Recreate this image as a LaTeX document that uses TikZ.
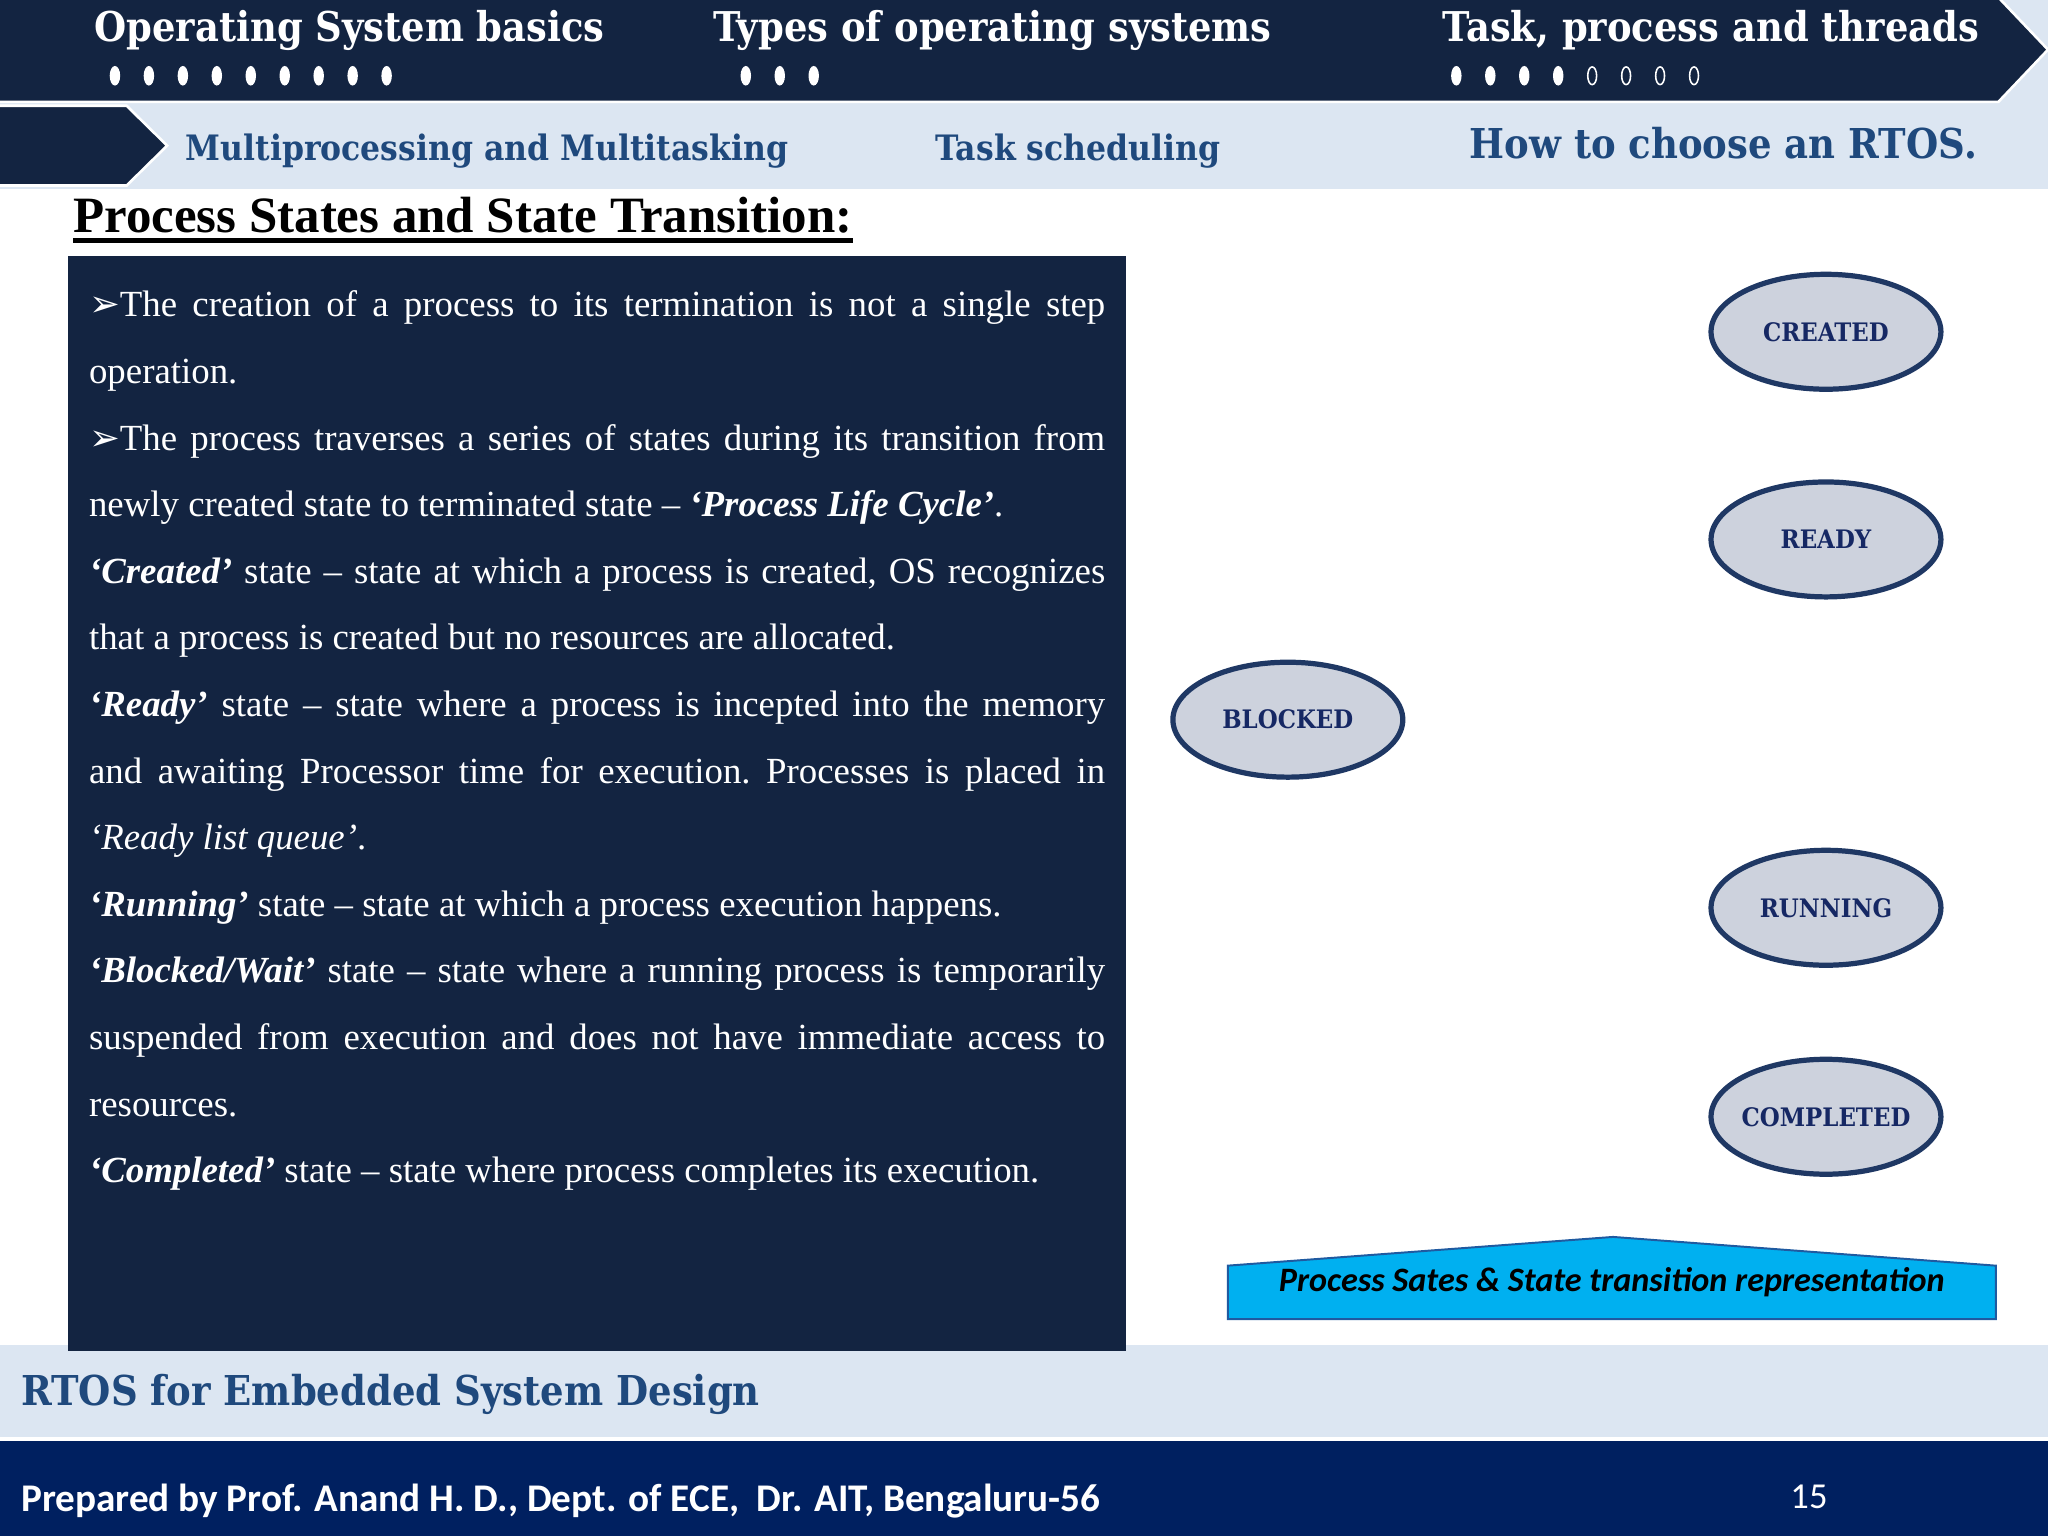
\documentclass[tikz,border=0pt]{standalone}
\usepackage{fontspec}
\setmainfont{Liberation Serif}
\newfontfamily\slab[FakeStretch=0.9]{DejaVu Serif}
\newfontfamily\calib{Carlito}
\newfontfamily\symb{DejaVu Sans}
\usetikzlibrary{shapes.geometric}
\definecolor{navy}{RGB}{19,36,65}
\definecolor{band}{RGB}{220,230,242}
\definecolor{bandtext}{RGB}{31,73,125}
\definecolor{foot}{RGB}{0,32,96}
\definecolor{statefill}{RGB}{205,210,221}
\definecolor{stateline}{RGB}{31,56,100}
\definecolor{statetext}{RGB}{22,40,100}
\definecolor{capfill}{RGB}{0,176,240}
\definecolor{capline}{RGB}{31,90,160}
\begin{document}
\begin{tikzpicture}[x=1pt,y=-1pt,
  toptab/.style={inner sep=0,anchor=base west,text=white,font=\slab\bfseries\fontsize{31.4}{31.4}\selectfont},
  subtab/.style={inner sep=0,anchor=base west,text=bandtext,font=\slab\bfseries\fontsize{26.8}{26.8}\selectfont},
  bigtab/.style={subtab,font=\slab\bfseries\fontsize{31.5}{31.5}\selectfont},
  state/.style={ellipse,draw=stateline,line width=4pt,fill=statefill,minimum width=176pt,minimum height=88pt,
    inner xsep=-6pt,inner ysep=0,text=statetext,font=\slab\bfseries\fontsize{19.5}{19.5}\selectfont},
  body/.style={inner sep=0,anchor=north west,text width=778pt,align=justify,text=white,
    font=\fontsize{28.2}{51}\selectfont\frenchspacing}]
\useasboundingbox (0,0) rectangle (1568,1176);
\fill[white] (0,0) rectangle (1568,1176);
\fill[band] (0,0) rectangle (1568,145);
\draw[white,line width=2,fill=navy] (-2,-2) -- (1530,-2) -- (1568,38) -- (1530,78) -- (-2,78) -- cycle;
\draw[white,line width=2,fill=navy] (-2,81) -- (97,81) -- (128,111.5) -- (97,142) -- (-2,142) -- cycle;
\node[toptab] (basics) at (72,32) {Operating System basics};
\node[toptab] (types) at (546,32) {Types of operating systems};
\node[toptab] (threads) at (1104,32) {Task, process and threads};
\foreach \i in {0,...,8} \fill[white] (88+26*\i,58) ellipse (4 and 7.5);
\foreach \i in {0,1,2} \fill[white] (571+26*\i,58) ellipse (4 and 7.5);
\foreach \i in {0,...,3} {
  \fill[white] (1115+26*\i,58) ellipse (4 and 7.5);
  \draw[white,line width=1.2] (1219+26*\i,58) ellipse (3.4 and 6.8);
}
\node[subtab] (multi) at (142,123) {Multiprocessing and Multitasking};
\node[subtab] (sched) at (716,123) {Task scheduling};
\node[bigtab] (choose) at (1125,121) {How to choose an RTOS.};
\node[inner sep=0,anchor=base west,font=\bfseries\fontsize{39}{39}\selectfont] (title) at (56,178) {Process States and State Transition:};
\draw[line width=3.5] ([yshift=-6]title.base west) -- ([yshift=-6]title.base east);
\fill[band] (0,1030) rectangle (1568,1100);
\fill[foot] (0,1103) rectangle (1568,1176);
\fill[navy] (52,196) rectangle (862,1034);
\node[body] (desc) at (68,222.5) {{\symb ➢}The creation of a process to its termination is not a single step\linebreak operation.\par
{\symb ➢}The process traverses a series of states during its transition from\linebreak newly created state to terminated state – {\bfseries\itshape ‘Process Life Cycle’}.\par
{\bfseries\itshape ‘Created’} state – state at which a process is created, OS recognizes\linebreak that a process is created but no resources are allocated.\par
{\bfseries\itshape ‘Ready’} state – state where a process is incepted into the memory\linebreak and awaiting Processor time for execution. Processes is placed in\linebreak {\itshape ‘Ready list queue’}.\par
{\bfseries\itshape ‘Running’} state – state at which a process execution happens.\par
{\bfseries\itshape ‘Blocked/Wait’} state – state where a running process is temporarily\linebreak suspended from execution and does not have immediate access to\linebreak resources.\par
{\bfseries\itshape ‘Completed’} state – state where process completes its execution.};
\node[state] (created) at (1398,254) {CREATED};
\node[state] (ready) at (1398,413) {READY};
\node[state] (blocked) at (986,551) {BLOCKED};
\node[state] (running) at (1398,695) {RUNNING};
\node[state] (completed) at (1398,855) {COMPLETED};
\draw[capline,line width=1.5,fill=capfill] (940,1010) -- (940,969) -- (1235,947) -- (1528,969) -- (1528,1010) -- cycle;
\node[inner sep=0,anchor=base,font=\calib\bfseries\itshape\fontsize{26.2}{26.2}\selectfont] (caption) at (1234,989) {Process Sates \& State transition representation};
\node[bigtab] (course) at (16,1076) {RTOS for Embedded System Design};
\node[inner sep=0,anchor=base west,text=white,font=\calib\bfseries\fontsize{30}{30}\selectfont] (author) at (16,1157) {Prepared by Prof. Anand H. D., Dept. of ECE,\ \ Dr. AIT, Bengaluru-56};
\node[inner sep=0,anchor=base,text=white,font=\calib\fontsize{28}{28}\selectfont] (page) at (1385,1155) {15};
\end{tikzpicture}
\end{document}
